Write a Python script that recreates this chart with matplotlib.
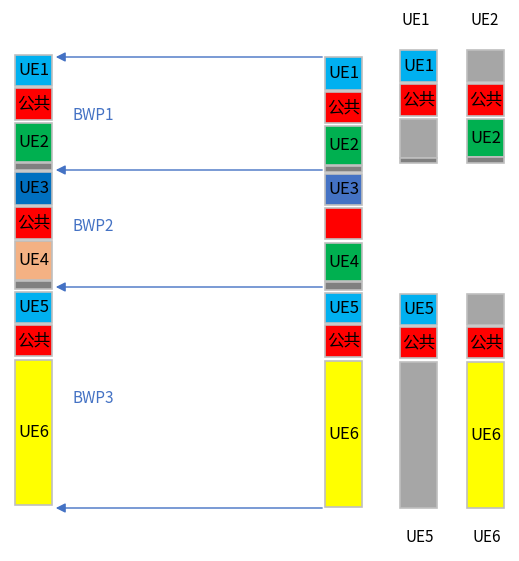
import matplotlib
matplotlib.use("Agg")
import matplotlib.pyplot as plt
from matplotlib.patches import Rectangle

plt.rcParams['font.family'] = ['Noto Sans CJK SC', 'DejaVu Sans']

W, H = 519, 561
LB, RD, GN, YL, GR, DG = '#00B0F0', '#FF0000', '#00B050', '#FFFF00', '#A6A6A6', '#808080'

# columns: (x_left, width, segments [(top, bottom, color, label)])
col_left = [(55, 86, LB, 'UE1'), (88, 120, RD, '公共'), (123, 162, GN, 'UE2'), (163, 170, DG, ''),
            (172, 205, '#0070C0', 'UE3'), (207, 239, RD, '公共'), (241, 280, '#F4B183', 'UE4'),
            (281, 289, DG, ''), (292, 323, LB, 'UE5'), (325, 356, RD, '公共'), (360, 505, YL, 'UE6')]
col_mid = [(57, 90, LB, 'UE1'), (92, 123, RD, '公共'), (126, 165, GN, 'UE2'), (166, 172, DG, ''),
           (174, 205, '#4472C4', 'UE3'), (208, 239, RD, ''), (243, 281, GN, 'UE4'), (282, 290, DG, ''),
           (293, 323, LB, 'UE5'), (325, 357, RD, '公共'), (361, 507, YL, 'UE6')]
col_ue1 = [(50, 82, LB, 'UE1'), (84, 116, RD, '公共'), (119, 158, GR, ''), (158, 163, DG, '')]
col_ue2 = [(50, 82, GR, ''), (84, 116, RD, '公共'), (119, 157, GN, 'UE2'), (157, 163, DG, '')]
col_ue5 = [(294, 325, LB, 'UE5'), (327, 358, RD, '公共'), (362, 508, GR, '')]
col_ue6 = [(294, 325, GR, ''), (327, 358, RD, '公共'), (362, 508, YL, 'UE6')]
columns = [(15, col_left), (325, col_mid), (400, col_ue1), (467, col_ue2), (400, col_ue5), (467, col_ue6)]
col_w = 37

headers = [(416, 20, 'UE1'), (485, 20, 'UE2'), (420, 538, 'UE5'), (487, 538, 'UE6')]
arrow_y = [57, 170, 287, 508]
bwp = [(73, 115, 'BWP1'), (73, 226, 'BWP2'), (73, 398, 'BWP3')]

fig = plt.figure(figsize=(W / 100, H / 100), dpi=100)
ax = fig.add_axes([0, 0, 1, 1])
ax.set_xlim(0, W)
ax.set_ylim(H, 0)
ax.axis('off')

for x0, segs in columns:
    for top, bot, c, lab in segs:
        ax.add_patch(Rectangle((x0, top), col_w, bot - top, facecolor=c, edgecolor='#BFBFBF', lw=1.2))
        if lab:
            ax.text(x0 + col_w / 2, (top + bot) / 2, lab, ha='center', va='center', fontsize=12, color='black')

for y in arrow_y:
    ax.annotate('', xy=(53, y), xytext=(325, y),
                arrowprops=dict(arrowstyle='-|>', color='#4472C4', lw=1, mutation_scale=14))
for x, y, t in bwp:
    ax.text(x, y, t, ha='left', va='center', fontsize=11, color='#4472C4')
for x, y, t in headers:
    ax.text(x, y, t, ha='center', va='center', fontsize=11, color='black')

fig.savefig('out.png', dpi=100)
